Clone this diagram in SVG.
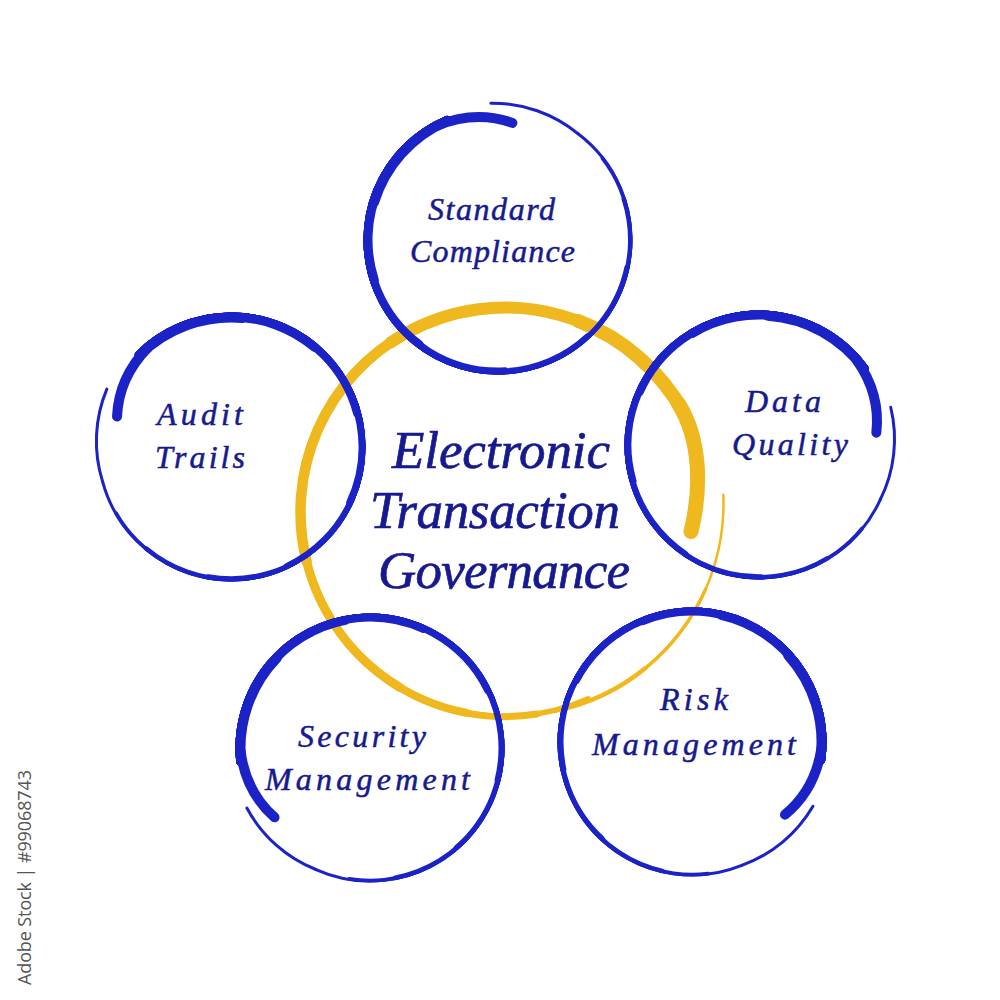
<svg xmlns="http://www.w3.org/2000/svg" width="1000" height="1000" viewBox="0 0 1000 1000">
<style>
.bl{fill:none;stroke:#1b22c6;stroke-linecap:round}
.gd{fill:none;stroke:#efb81e;stroke-linecap:round}
.t{font-family:"Liberation Serif","Times New Roman",serif;font-style:italic;fill:#161a8e;stroke:#161a8e}
.s{font-size:32px;stroke-width:0.5}
.c{font-size:53px;stroke-width:0.7}
.wm{font-family:"Open Sans","Liberation Sans",sans-serif;font-size:18px;fill:#555555}
</style>
<defs>
<g id="ring" class="bl">
<circle r="133" pathLength="360" transform="rotate(30)" stroke-width="3" stroke-dasharray="300 60"/>
<path d="M115.18 -66.5 A135 135 0 0 1 134.92 23.79" stroke-width="3"/>
<circle r="132.6" pathLength="360" transform="rotate(30)" stroke-width="3.75" stroke-dasharray="285 75"/>
<circle r="132.25" pathLength="360" transform="rotate(30)" stroke-width="4.5" stroke-dasharray="265 95"/>
<circle r="131.9" pathLength="360" transform="rotate(30)" stroke-width="5.25" stroke-dasharray="235 125"/>
<circle r="131.5" pathLength="360" transform="rotate(30)" stroke-width="6" stroke-dasharray="200 160"/>
<circle r="131" pathLength="360" transform="rotate(30)" stroke-width="7" stroke-dasharray="160 200"/>
<circle r="130.5" pathLength="360" transform="rotate(30)" stroke-width="8" stroke-dasharray="120 240"/>
<circle r="130" pathLength="360" transform="rotate(30)" stroke-width="9" stroke-dasharray="85 275"/>
<circle r="129.5" pathLength="360" transform="rotate(30)" stroke-width="10" stroke-dasharray="50 310"/>
<path d="M118 0 Q126.4 38.1 106.1 74.3" stroke-width="10"/>
</g>
</defs>
<rect width="1000" height="1000" fill="#ffffff"/>
<g id="connectors"/>
<g id="node-center">
<g class="gd" transform="translate(505 512) rotate(6) scale(1 -1)">
<path d="M70.11 -192.64 A207 207 0 0 1 156.06 -140.52" stroke-width="4.5"/>
<path d="M156.06 -140.52 A212 212 0 0 1 207.67 -55.65" stroke-width="3.5"/>
<path d="M207.67 -55.65 A217 217 0 0 1 215.33 39.91" stroke-width="2.5"/>
<circle r="204.5" pathLength="360" transform="rotate(35)" stroke-width="5.5" stroke-dasharray="265 95"/>
<circle r="204.5" pathLength="360" transform="rotate(35)" stroke-width="7" stroke-dasharray="250 110"/>
<circle r="204.5" pathLength="360" transform="rotate(35)" stroke-width="8" stroke-dasharray="230 130"/>
<circle r="204.5" pathLength="360" transform="rotate(35)" stroke-width="9" stroke-dasharray="210 150"/>
<circle r="204.5" pathLength="360" transform="rotate(35)" stroke-width="10.5" stroke-dasharray="165 195"/>
<circle r="204.5" pathLength="360" transform="rotate(35)" stroke-width="12" stroke-dasharray="95 265"/>
<circle r="204.5" pathLength="360" transform="rotate(35)" stroke-width="14" stroke-dasharray="40 320"/>
<path d="M187 0 C193 42.6 187.63 92.02 161.15 125.9" stroke-width="15"/>
</g>
<text class="t c" x="392" y="468" textLength="218">Electronic</text>
<text class="t c" x="370" y="528" textLength="250">Transaction</text>
<text class="t c" x="378" y="588" textLength="252">Governance</text>
</g>
<g id="node-standard-compliance">
<use href="#ring" transform="translate(498 240) rotate(-83) scale(1 -1)"/>
<text class="t s" x="428" y="220" textLength="127">Standard</text>
<text class="t s" x="410" y="262" textLength="165">Compliance</text>
</g>
<g id="node-audit-trails">
<use href="#ring" transform="translate(231 447) rotate(-165)"/>
<text class="t s" x="157" y="425" textLength="86">Audit</text>
<text class="t s" x="155" y="468" textLength="90">Trails</text>
</g>
<g id="node-data-quality">
<use href="#ring" transform="translate(759 445) rotate(-6) scale(1 -1)"/>
<text class="t s" x="745" y="412" textLength="76">Data</text>
<text class="t s" x="732" y="455" textLength="116">Quality</text>
</g>
<g id="node-security-management">
<use href="#ring" transform="translate(370 748) rotate(144)"/>
<text class="t s" x="298" y="747" textLength="128">Security</text>
<text class="t s" x="265" y="790" textLength="205">Management</text>
</g>
<g id="node-risk-management">
<use href="#ring" transform="translate(692 742) rotate(38) scale(1 -1)"/>
<text class="t s" x="660" y="710" textLength="68">Risk</text>
<text class="t s" x="592" y="755" textLength="204">Management</text>
</g>
<text class="wm" transform="translate(31 985) rotate(-90)" textLength="215">Adobe Stock | #99068743</text>
</svg>
